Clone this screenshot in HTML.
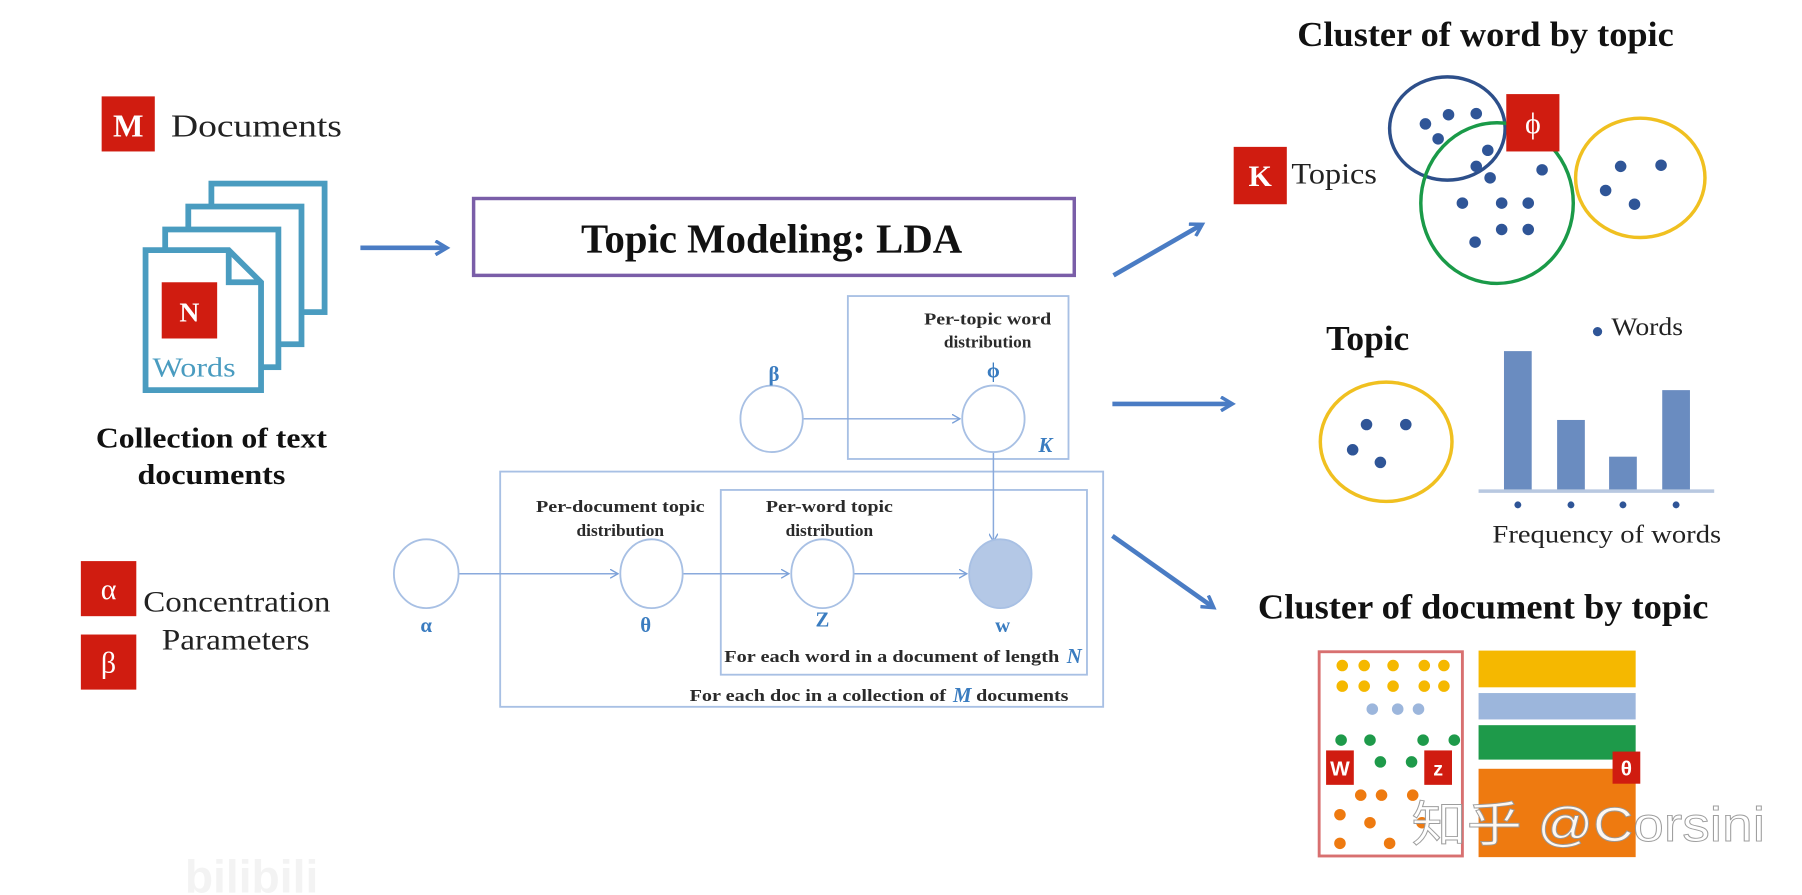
<!DOCTYPE html>
<html><head><meta charset="utf-8"><style>
html,body{margin:0;padding:0;background:#fff;overflow:hidden}
svg{display:block}
.s{font-family:"Liberation Serif",serif}
.b{font-weight:bold}
</style></head><body>
<svg width="1802" height="895" viewBox="0 0 1560 780" preserveAspectRatio="none" xmlns="http://www.w3.org/2000/svg">
<defs>
<marker id="ah" markerWidth="14" markerHeight="14" refX="10" refY="7" orient="auto" markerUnits="userSpaceOnUse"><path d="M1,1 L11,7 L1,13" fill="none" stroke="#4a7cc4" stroke-width="3"/></marker>
<marker id="sm" markerWidth="8" markerHeight="8" refX="7" refY="4" orient="auto" markerUnits="userSpaceOnUse"><path d="M0,0 L7,4 L0,8" fill="none" stroke="#7aa0d8" stroke-width="1.2"/></marker>
</defs>
<rect width="1560" height="780" fill="#fff"/>
<!-- left -->
<rect x="88" y="84" width="46" height="48" fill="#d01c10"/>
<text x="111" y="119" class="s b" font-size="28" fill="#fff" text-anchor="middle">M</text>
<text x="148" y="119" class="s" font-size="28" fill="#222" textLength="148" lengthAdjust="spacingAndGlyphs">Documents</text>
<g fill="#fff" stroke="#4a9cc0" stroke-width="5">
<rect x="183" y="160" width="98" height="112"/>
<rect x="163" y="180" width="98" height="120"/>
<rect x="143" y="200" width="98" height="120"/>
<path d="M126,218 L198,218 L226,246 L226,340 L126,340 Z"/>
<path d="M198,218 L198,246 L226,246" fill="none"/>
</g>
<rect x="140" y="246" width="48" height="49" fill="#d01c10"/>
<text x="164" y="280" class="s b" font-size="24" fill="#fff" text-anchor="middle">N</text>
<text x="132" y="328" class="s" font-size="24" fill="#4a9cc0" textLength="72" lengthAdjust="spacingAndGlyphs">Words</text>
<text x="183" y="390" class="s b" font-size="25" fill="#111" text-anchor="middle" textLength="200" lengthAdjust="spacingAndGlyphs">Collection of text</text>
<text x="183" y="422" class="s b" font-size="25" fill="#111" text-anchor="middle" textLength="128" lengthAdjust="spacingAndGlyphs">documents</text>
<rect x="70" y="489" width="48" height="48" fill="#d01c10"/>
<text x="94" y="522" class="s" font-size="26" fill="#fff" text-anchor="middle">α</text>
<rect x="70" y="553" width="48" height="48" fill="#d01c10"/>
<text x="94" y="586" class="s" font-size="26" fill="#fff" text-anchor="middle">β</text>
<text x="124" y="533" class="s" font-size="26" fill="#222" textLength="162" lengthAdjust="spacingAndGlyphs">Concentration</text>
<text x="140" y="566" class="s" font-size="26" fill="#222" textLength="128" lengthAdjust="spacingAndGlyphs">Parameters</text>
<!-- arrows -->
<g stroke="#4a7cc4" stroke-width="4" fill="none" marker-end="url(#ah)">
<line x1="312" y1="216" x2="386" y2="216"/>
<line x1="964" y1="240" x2="1040" y2="196"/>
<line x1="963" y1="352" x2="1066" y2="352"/>
<line x1="963" y1="467" x2="1050" y2="529"/>
</g>
<rect x="410" y="173" width="520" height="67" fill="#fff" stroke="#7a5ea8" stroke-width="3"/>
<text x="668" y="220" class="s b" font-size="36" fill="#111" text-anchor="middle" textLength="330" lengthAdjust="spacingAndGlyphs">Topic Modeling: LDA</text>
<!-- plates -->
<g fill="none" stroke="#a8c0e4" stroke-width="1.6">
<rect x="734" y="258" width="191" height="142"/>
<rect x="433" y="411" width="522" height="205"/>
<rect x="624" y="427" width="317" height="161"/>
</g>
<g stroke="#8aaadc" stroke-width="1.3" fill="none" marker-end="url(#sm)">
<line x1="695" y1="365" x2="831" y2="365"/>
<line x1="397" y1="500" x2="535" y2="500"/>
<line x1="591" y1="500" x2="683" y2="500"/>
<line x1="739" y1="500" x2="837" y2="500"/>
<line x1="860" y1="392" x2="860" y2="472"/>
</g>
<g fill="#fff" stroke="#a8c0e4" stroke-width="1.6">
<ellipse cx="668" cy="365" rx="27" ry="29"/>
<ellipse cx="860" cy="365" rx="27" ry="29"/>
<ellipse cx="369" cy="500" rx="28" ry="30"/>
<ellipse cx="564" cy="500" rx="27" ry="30"/>
<ellipse cx="712" cy="500" rx="27" ry="30"/>
<ellipse cx="866" cy="500" rx="27" ry="30" fill="#b4c8e6"/>
</g>
<g class="s b" fill="#2a2a2a" font-size="15" text-anchor="middle" lengthAdjust="spacingAndGlyphs">
<text x="855" y="283" textLength="110" lengthAdjust="spacingAndGlyphs">Per-topic word</text>
<text x="855" y="303">distribution</text>
<text x="537" y="446" textLength="146" lengthAdjust="spacingAndGlyphs">Per-document topic</text>
<text x="537" y="467">distribution</text>
<text x="718" y="446" textLength="110" lengthAdjust="spacingAndGlyphs">Per-word topic</text>
<text x="718" y="467">distribution</text>
</g>
<text x="627" y="577" class="s b" font-size="15" fill="#2a2a2a" textLength="290" lengthAdjust="spacingAndGlyphs">For each word in a document of length</text>
<text x="597" y="611" class="s b" font-size="15" fill="#2a2a2a" textLength="222" lengthAdjust="spacingAndGlyphs">For each doc in a collection of</text>
<text x="845" y="611" class="s b" font-size="15" fill="#2a2a2a" textLength="80" lengthAdjust="spacingAndGlyphs">documents</text>
<g class="s b" fill="#3a7cc0" font-size="18" text-anchor="middle">
<text x="670" y="332">β</text>
<text x="860" y="329">ϕ</text>
<text x="905" y="394" font-style="italic">K</text>
<text x="369" y="551">α</text>
<text x="559" y="551">θ</text>
<text x="712" y="546">Z</text>
<text x="868" y="551">w</text>
<text x="930" y="578" font-style="italic">N</text>
<text x="833" y="612" font-style="italic">M</text>
</g>
<!-- right top -->
<text x="1286" y="40" class="s b" font-size="30" fill="#111" text-anchor="middle" textLength="326" lengthAdjust="spacingAndGlyphs">Cluster of word by topic</text>
<rect x="1068" y="128" width="46" height="50" fill="#d01c10"/>
<text x="1091" y="162" class="s b" font-size="26" fill="#fff" text-anchor="middle">K</text>
<text x="1118" y="160" class="s" font-size="26" fill="#222" textLength="74" lengthAdjust="spacingAndGlyphs">Topics</text>
<ellipse cx="1253" cy="112" rx="50" ry="45" fill="none" stroke="#2d4f8a" stroke-width="3"/>
<ellipse cx="1296" cy="177" rx="66" ry="70" fill="none" stroke="#1a9a48" stroke-width="3"/>
<ellipse cx="1420" cy="155" rx="56" ry="52" fill="none" stroke="#f0c020" stroke-width="3"/>
<rect x="1304" y="82" width="46" height="50" fill="#d01c10"/>
<text x="1327" y="116" class="s" font-size="26" fill="#fff" text-anchor="middle">ϕ</text>
<g fill="#2f5597">
<circle cx="1234" cy="108" r="5"/><circle cx="1254" cy="100" r="5"/><circle cx="1278" cy="99" r="5"/><circle cx="1245" cy="121" r="5"/>
<circle cx="1288" cy="131" r="5"/><circle cx="1278" cy="145" r="5"/><circle cx="1290" cy="155" r="5"/><circle cx="1335" cy="148" r="5"/>
<circle cx="1266" cy="177" r="5"/><circle cx="1300" cy="177" r="5"/><circle cx="1323" cy="177" r="5"/><circle cx="1300" cy="200" r="5"/><circle cx="1323" cy="200" r="5"/><circle cx="1277" cy="211" r="5"/>
<circle cx="1403" cy="145" r="5"/><circle cx="1438" cy="144" r="5"/><circle cx="1390" cy="166" r="5"/><circle cx="1415" cy="178" r="5"/>
</g>
<!-- topic -->
<text x="1148" y="305" class="s b" font-size="30" fill="#111" textLength="72" lengthAdjust="spacingAndGlyphs">Topic</text>
<ellipse cx="1200" cy="385" rx="57" ry="52" fill="none" stroke="#f0c020" stroke-width="3"/>
<g fill="#2f5597"><circle cx="1183" cy="370" r="5"/><circle cx="1217" cy="370" r="5"/><circle cx="1171" cy="392" r="5"/><circle cx="1195" cy="403" r="5"/></g>
<circle cx="1383" cy="289" r="4" fill="#2f5597"/>
<text x="1395" y="292" class="s" font-size="22" fill="#222" textLength="62" lengthAdjust="spacingAndGlyphs">Words</text>
<g fill="#6a8cc0">
<rect x="1302" y="306" width="24" height="121"/><rect x="1348" y="366" width="24" height="61"/>
<rect x="1393" y="398" width="24" height="29"/><rect x="1439" y="340" width="24" height="87"/>
</g>
<line x1="1280" y1="428" x2="1484" y2="428" stroke="#b8c8e0" stroke-width="3"/>
<g fill="#2f5597"><circle cx="1314" cy="440" r="3"/><circle cx="1360" cy="440" r="3"/><circle cx="1405" cy="440" r="3"/><circle cx="1451" cy="440" r="3"/></g>
<text x="1292" y="473" class="s" font-size="22" fill="#222" textLength="198" lengthAdjust="spacingAndGlyphs">Frequency  of words</text>
<!-- doc cluster -->
<text x="1284" y="539" class="s b" font-size="30" fill="#111" text-anchor="middle" textLength="390" lengthAdjust="spacingAndGlyphs">Cluster of document by topic</text>
<rect x="1142" y="568" width="124" height="178" fill="#fff" stroke="#d87070" stroke-width="2.5"/>
<g fill="#f5b800">
<circle cx="1162" cy="580" r="5"/><circle cx="1181" cy="580" r="5"/><circle cx="1206" cy="580" r="5"/><circle cx="1233" cy="580" r="5"/><circle cx="1250" cy="580" r="5"/>
<circle cx="1162" cy="598" r="5"/><circle cx="1181" cy="598" r="5"/><circle cx="1206" cy="598" r="5"/><circle cx="1233" cy="598" r="5"/><circle cx="1250" cy="598" r="5"/>
</g>
<g fill="#9cb6dc"><circle cx="1188" cy="618" r="5"/><circle cx="1210" cy="618" r="5"/><circle cx="1228" cy="618" r="5"/></g>
<g fill="#1e9a4a"><circle cx="1161" cy="645" r="5"/><circle cx="1186" cy="645" r="5"/><circle cx="1232" cy="645" r="5"/><circle cx="1259" cy="645" r="5"/><circle cx="1195" cy="664" r="5"/><circle cx="1222" cy="664" r="5"/></g>
<g fill="#ee7a10"><circle cx="1178" cy="693" r="5"/><circle cx="1196" cy="693" r="5"/><circle cx="1223" cy="693" r="5"/><circle cx="1160" cy="710" r="5"/><circle cx="1186" cy="717" r="5"/><circle cx="1231" cy="717" r="5"/><circle cx="1160" cy="735" r="5"/><circle cx="1203" cy="735" r="5"/></g>
<rect x="1148" y="654" width="24" height="30" fill="#d01c10"/>
<text x="1160" y="676" font-family="Liberation Sans,sans-serif" font-weight="bold" font-size="18" fill="#fff" text-anchor="middle">W</text>
<rect x="1233" y="654" width="24" height="30" fill="#d01c10"/>
<text x="1245" y="676" font-family="Liberation Sans,sans-serif" font-weight="bold" font-size="17" fill="#fff" text-anchor="middle">z</text>
<rect x="1280" y="567" width="136" height="32" fill="#f5b800"/>
<rect x="1280" y="604" width="136" height="23" fill="#9cb6dc"/>
<rect x="1280" y="632" width="136" height="30" fill="#1e9a4a"/>
<rect x="1280" y="670" width="136" height="77" fill="#ee7a10"/>
<rect x="1396" y="655" width="24" height="28" fill="#d01c10"/>
<text x="1408" y="676" font-family="Liberation Sans,sans-serif" font-weight="bold" font-size="18" fill="#fff" text-anchor="middle">θ</text>
<text x="1222" y="733" font-family="Liberation Sans,'Noto Sans CJK SC',sans-serif" font-size="42" fill="#fff" stroke="#999" stroke-width="0.8" opacity="0.95" textLength="306" lengthAdjust="spacingAndGlyphs">知乎 @Corsini</text>
<text x="160" y="778" font-family="Liberation Sans,sans-serif" font-weight="bold" font-size="40" fill="#f3f3f3">bilibili</text>
</svg>
</body></html>
